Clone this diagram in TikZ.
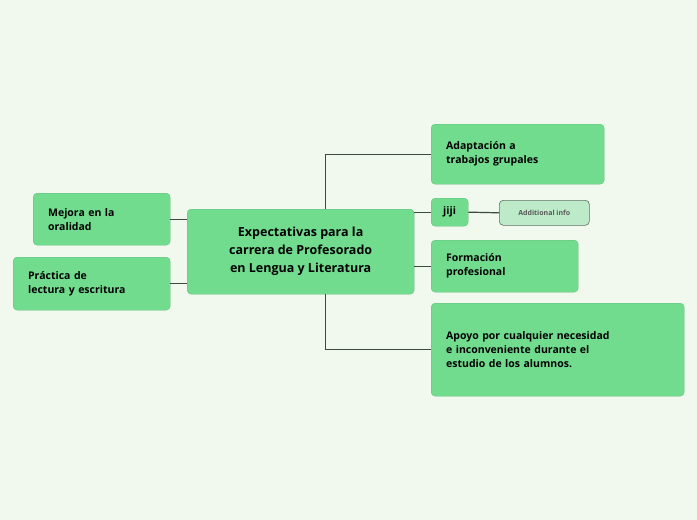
\documentclass[tikz,border=0pt]{standalone}
\usepackage{fontspec}
\setmainfont{Open Sans}
\definecolor{bg}{HTML}{F1F8EE}
\definecolor{nodeg}{HTML}{72DC8E}
\definecolor{infog}{HTML}{BDEBC9}
\definecolor{lineg}{HTML}{3A4A3E}
\begin{document}
\begin{tikzpicture}[x=1pt,y=-1pt,
 box/.style={fill=nodeg,draw=nodeg!85!black,line width=0.3pt,rounded corners=4pt,inner sep=0pt,align=left,anchor=north west,font=\bfseries\fontsize{10.5}{14}\selectfont,text=black},
 conn/.style={draw=lineg,line width=1.2pt}]
\fill[bg] (0,0) rectangle (697,520);
\useasboundingbox (0,0) rectangle (697,520);
\node[box,minimum width=227,minimum height=85,align=center,font=\bfseries\fontsize{12.5}{18}\selectfont] (c) at (187,209) {Expectativas para la\\carrera de Profesorado\\en Lengua y Literatura};
\node[box,minimum width=173,minimum height=60,text width=163] (a) at (431,124) {\hspace*{10pt}Adaptación a\\\hspace*{10pt}trabajos grupales};
\node[box,minimum width=37,minimum height=28,align=center] (j) at (431,198) {jiji};
\node[fill=infog,draw=lineg!80,line width=0.6pt,rounded corners=4pt,minimum width=90,minimum height=25,anchor=north west,inner sep=0pt,font=\bfseries\fontsize{7}{9}\selectfont,text=gray!70!black] (i) at (499,200) {Additional info};
\node[box,minimum width=147,minimum height=52,text width=137] (f) at (431,240) {\hspace*{10pt}Formación\\\hspace*{10pt}profesional};
\node[box,minimum width=253,minimum height=93,text width=243] (ap) at (431,303) {\hspace*{10pt}Apoyo por cualquier necesidad\\\hspace*{10pt}e inconveniente durante el\\\hspace*{10pt}estudio de los alumnos.};
\node[box,minimum width=137,minimum height=52,text width=127] (m) at (33,193) {\hspace*{10pt}Mejora en la\\\hspace*{10pt}oralidad};
\node[box,minimum width=157,minimum height=53,text width=147] (p) at (13,257) {\hspace*{10pt}Práctica de\\\hspace*{10pt}lectura y escritura};
\begin{scope}[on background layer/.style={}]
\end{scope}
\draw[conn] (c.north) ++(25,0) coordinate (t1) |- (a.west);
\draw[conn] (c.south) ++(25,0) coordinate (t2) |- (ap.west);
\draw[conn] (c.east |- j.west) -- (j.west);
\draw[conn] (c.east |- f.west) -- (f.west);
\draw[conn] (j.east) -- (i.west);
\draw[conn] (m.east) -- (c.west |- m.east);
\draw[conn] (p.east) -- (c.west |- p.east);
\end{tikzpicture}
\end{document}
